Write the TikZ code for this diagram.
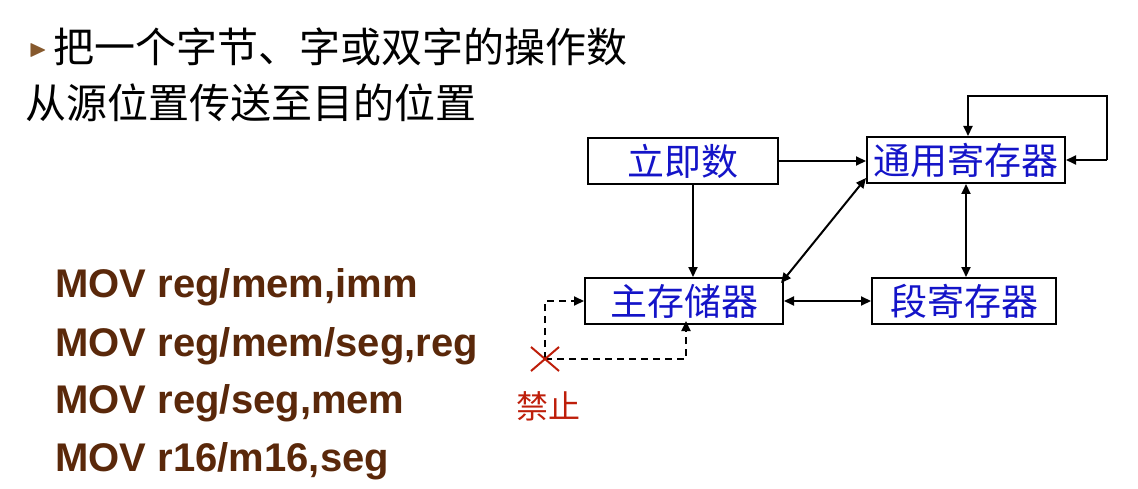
\documentclass[tikz,border=0pt]{standalone}
\usepackage{amssymb}
\usepackage{fontspec}
\setmainfont{Liberation Sans}
\newfontfamily\cjk{Noto Sans CJK SC}
\usetikzlibrary{arrows.meta}
\definecolor{boxblue}{RGB}{20,20,200}
\definecolor{movbrown}{RGB}{90,40,10}
\definecolor{forbid}{RGB}{190,30,10}
\begin{document}
\begin{tikzpicture}[x=1pt,y=-1pt,
  box/.style={draw,line width=2pt,minimum height=46pt,inner sep=0pt,text=boxblue,font=\cjk\fontsize{37}{37}\selectfont},
  arr/.style={line width=2pt,-{Triangle[length=10pt,width=9pt]}},
  darr/.style={line width=2pt,{Triangle[length=10pt,width=9pt]}-{Triangle[length=10pt,width=9pt]}},
  dashline/.style={line width=2pt,dash pattern=on 7pt off 5pt},
  mov/.style={anchor=west,font=\bfseries\fontsize{40}{40}\selectfont,text=movbrown},
  title/.style={anchor=west,font=\cjk\fontsize{41}{41}\selectfont}]
\useasboundingbox (0,0) rectangle (1138,489);
\node[title] (t1) at (50,47) {把一个字节、字或双字的操作数};
\node[anchor=center,text=brown!70!black,font=\fontsize{24}{24}\selectfont] (tri) at (38,50) {$\blacktriangleright$};
\node[title] (t2) at (22,103) {从源位置传送至目的位置};
\node[mov] (m1) at (52,287) {MOV reg/mem,imm};
\node[mov] (m2) at (52,346) {MOV reg/mem/seg,reg};
\node[mov] (m3) at (52,403) {MOV reg/seg,mem};
\node[mov] (m4) at (52,461) {MOV r16/m16,seg};
\node[box,minimum width=190pt] (imm) at (683,161) {立即数};
\node[box,minimum width=198pt] (gr) at (966,160) {通用寄存器};
\node[box,minimum width=198pt] (mem) at (684,301) {主存储器};
\node[box,minimum width=184pt] (seg) at (964,301) {段寄存器};
\coordinate (lt) at (968,96);
\coordinate (rt) at (1107,96);
\coordinate (rb) at (1107,160);
\draw[arr] (rb) -- (rt) -- (lt) -- (gr.north -| lt);
\draw[arr] (rb) -- (gr.east |- rb);
\draw[arr] (imm.east) -- (gr.west |- imm.east);
\draw[arr] (imm.south -| 693,0) -- (mem.north -| 693,0);
\draw[darr] ([xshift=-3pt,yshift=-6pt]mem.north east) -- ([yshift=6pt]gr.south west);
\draw[darr] (gr.south) -- (seg.north -| gr.south);
\draw[darr] (mem.east) -- (seg.west);
\coordinate (x) at (545,359);
\draw[dashline,-{Triangle[length=10pt,width=9pt]}] (x) -- (545,301) -- (mem.west);
\draw[dashline,-{Triangle[length=10pt,width=9pt]}] (x) -- (686,359) -- ([yshift=4pt]mem.south -| 686,0);
\draw[forbid,line width=2pt] (531,347) -- (559,371) (531,371) -- (559,347);
\node[text=forbid,font=\cjk\fontsize{32}{32}\selectfont] (no) at (548,406) {禁止};
\end{tikzpicture}
\end{document}
